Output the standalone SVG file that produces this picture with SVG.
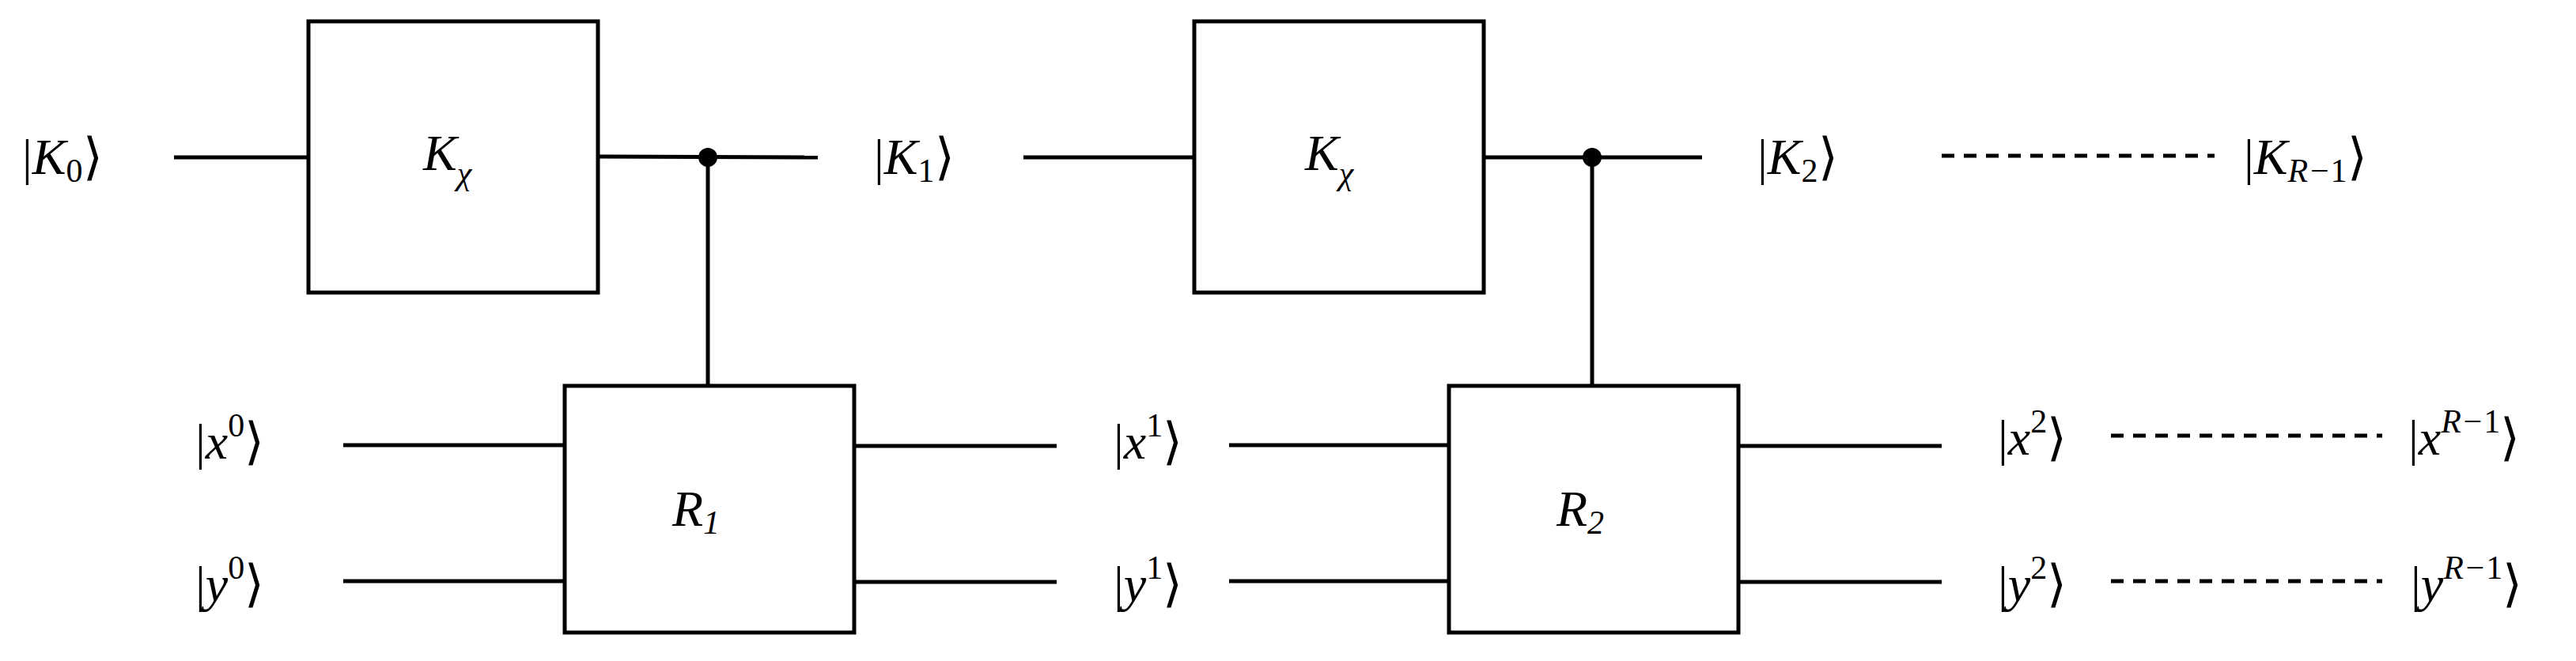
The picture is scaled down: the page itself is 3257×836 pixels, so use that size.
<svg xmlns="http://www.w3.org/2000/svg" width="3257" height="836" viewBox="0 0 3257 836">
<style>
.box{fill:#fff;stroke:#000;stroke-width:5}
.w{stroke:#000;stroke-width:5;fill:none}
.d{stroke:#000;stroke-width:5;fill:none;stroke-dasharray:16 12}
text{font-family:"Liberation Serif",serif;font-style:italic;font-size:64px;fill:#000}
.n{font-style:normal}
.s{font-size:42px}
</style>
<rect width="3257" height="836" fill="#fff"/>
<g id="connectors">
<line class="w" x1="220" y1="199" x2="390" y2="199"/>
<line class="w" x1="756" y1="198" x2="1034" y2="199"/>
<line class="w" x1="895" y1="199" x2="895" y2="488"/>
<circle cx="895" cy="199" r="12" fill="#000"/>
<line class="w" x1="434" y1="563" x2="714" y2="563"/>
<line class="w" x1="434" y1="735" x2="714" y2="735"/>
<line class="w" x1="1080" y1="564" x2="1336" y2="564"/>
<line class="w" x1="1080" y1="736" x2="1336" y2="736"/>
<line class="w" x1="1294" y1="199" x2="1510" y2="199"/>
<line class="w" x1="1874" y1="199" x2="2152" y2="199"/>
<line class="w" x1="2013" y1="199" x2="2013" y2="488"/>
<circle cx="2013" cy="199" r="12" fill="#000"/>
<line class="w" x1="1554" y1="563" x2="1832" y2="563"/>
<line class="w" x1="1554" y1="735" x2="1832" y2="735"/>
<line class="w" x1="2198" y1="564" x2="2455" y2="564"/>
<line class="w" x1="2198" y1="736" x2="2455" y2="736"/>
<line class="d" x1="2455" y1="197" x2="2800" y2="197"/>
<line class="d" x1="2669" y1="551" x2="3012" y2="551"/>
<line class="d" x1="2669" y1="735" x2="3012" y2="735"/>
</g>
<g id="K1box"><rect class="box" x="390" y="27" width="366" height="343"/><text x="535" y="215">K<tspan class="s" dy="18">χ</tspan></text></g>
<g id="R1box"><rect class="box" x="714" y="488" width="366" height="312"/><text x="850" y="665">R<tspan class="s" dy="10">1</tspan></text></g>
<g id="K2box"><rect class="box" x="1510" y="27" width="366" height="343"/><text x="1650" y="215">K<tspan class="s" dy="18">χ</tspan></text></g>
<g id="R2box"><rect class="box" x="1832" y="488" width="366" height="312"/><text x="1968" y="665">R<tspan class="s" dy="10">2</tspan></text></g>
<g id="labels">
<text x="28" y="220"><tspan class="n">|</tspan>K<tspan class="s n" dy="10">0</tspan><tspan class="n" dy="-10">⟩</tspan></text>
<text x="1105" y="220"><tspan class="n">|</tspan>K<tspan class="s n" dy="10">1</tspan><tspan class="n" dy="-10">⟩</tspan></text>
<text x="2222" y="220"><tspan class="n">|</tspan>K<tspan class="s n" dy="10">2</tspan><tspan class="n" dy="-10">⟩</tspan></text>
<text x="2837" y="220"><tspan class="n">|</tspan>K<tspan class="s" dy="10">R−</tspan><tspan class="s n">1</tspan><tspan class="n" dy="-10">⟩</tspan></text>
<text x="247" y="580"><tspan class="n">|</tspan>x<tspan class="s n" dy="-28">0</tspan><tspan class="n" dy="28">⟩</tspan></text>
<text x="247" y="760"><tspan class="n">|</tspan>y<tspan class="s n" dy="-28">0</tspan><tspan class="n" dy="28">⟩</tspan></text>
<text x="1408" y="580"><tspan class="n">|</tspan>x<tspan class="s n" dy="-28">1</tspan><tspan class="n" dy="28">⟩</tspan></text>
<text x="1408" y="760"><tspan class="n">|</tspan>y<tspan class="s n" dy="-28">1</tspan><tspan class="n" dy="28">⟩</tspan></text>
<text x="2526" y="575"><tspan class="n">|</tspan>x<tspan class="s n" dy="-28">2</tspan><tspan class="n" dy="28">⟩</tspan></text>
<text x="2526" y="760"><tspan class="n">|</tspan>y<tspan class="s n" dy="-28">2</tspan><tspan class="n" dy="28">⟩</tspan></text>
<text x="3045" y="575"><tspan class="n">|</tspan>x<tspan class="s" dy="-28">R−</tspan><tspan class="s n">1</tspan><tspan class="n" dy="28">⟩</tspan></text>
<text x="3048" y="760"><tspan class="n">|</tspan>y<tspan class="s" dy="-28">R−</tspan><tspan class="s n">1</tspan><tspan class="n" dy="28">⟩</tspan></text>
</g>
</svg>
